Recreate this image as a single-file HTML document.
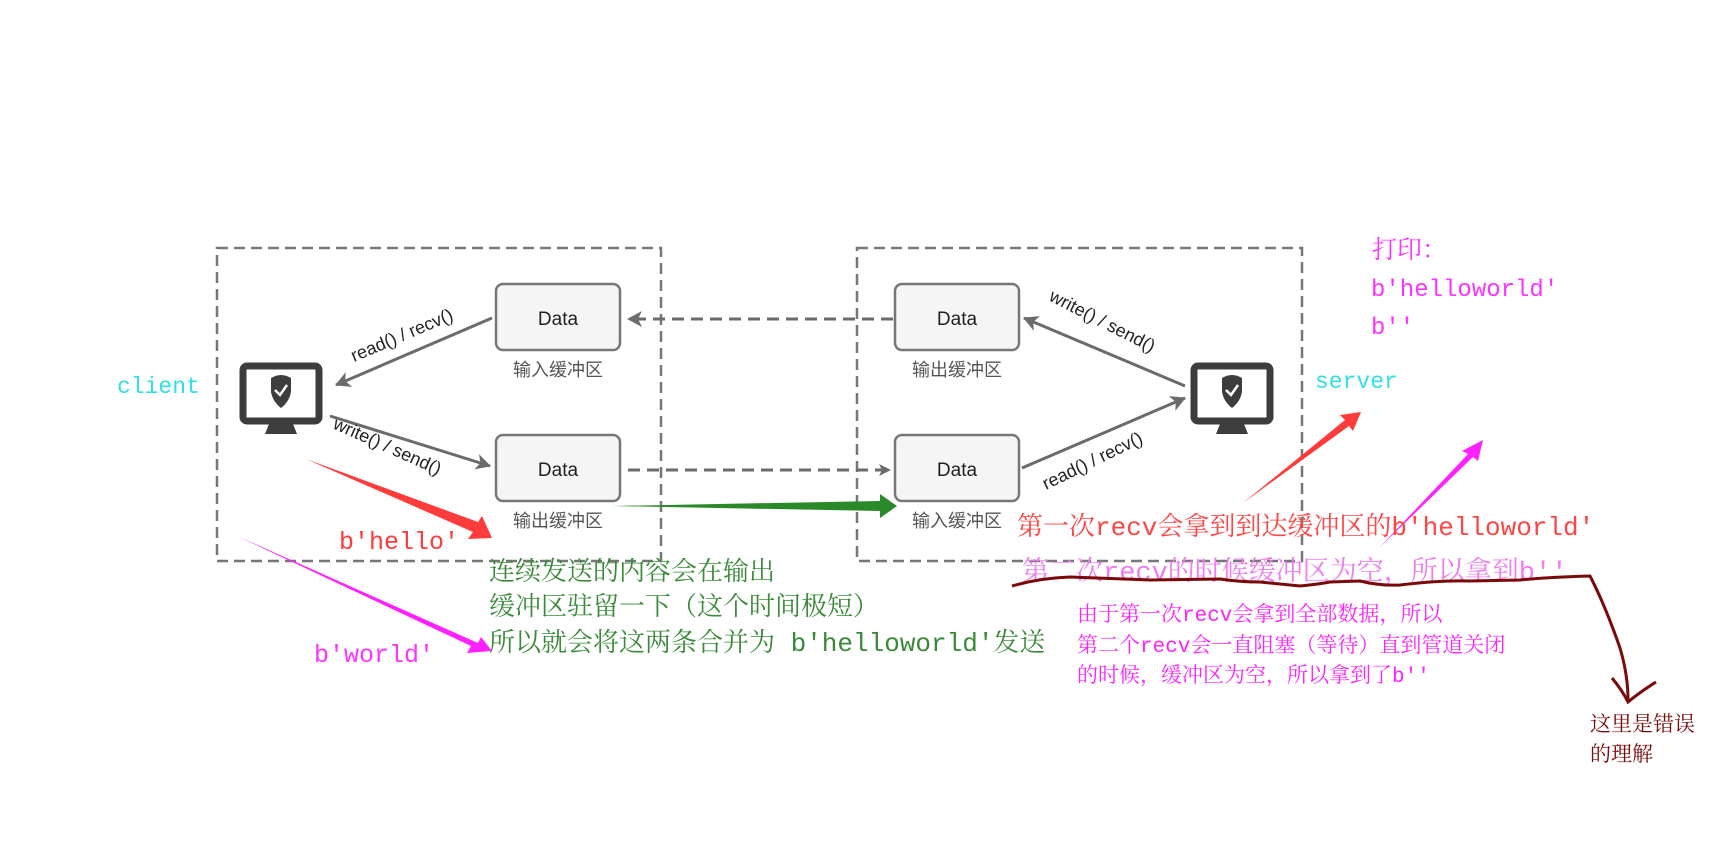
<!DOCTYPE html>
<html><head><meta charset="utf-8"><style>
html,body{margin:0;padding:0;background:#fff;}
svg{display:block;}
.m{font-family:"Liberation Mono","Noto Serif CJK SC","Noto Sans CJK SC",monospace;}
.s{font-family:"Liberation Sans","Noto Sans CJK SC",sans-serif;}
</style></head><body>
<svg width="1714" height="844" viewBox="0 0 1714 844" xmlns="http://www.w3.org/2000/svg">
<defs>
<marker id="ga" markerWidth="12" markerHeight="12" refX="10" refY="6" orient="auto" markerUnits="userSpaceOnUse"><path d="M0,0 L12,6 L0,12 L3,6 Z" fill="#6b6b6b"/></marker>
<marker id="ga2" markerWidth="16" markerHeight="16" refX="14" refY="8" orient="auto" markerUnits="userSpaceOnUse"><path d="M0,0 L15,8 L0,16 L4,8 Z" fill="#6b6b6b"/></marker>
</defs>
<rect x="217" y="248" width="444" height="313" fill="none" stroke="#777" stroke-width="2.5" stroke-dasharray="11,6"/>
<rect x="857" y="248" width="445" height="313" fill="none" stroke="#777" stroke-width="2.5" stroke-dasharray="11,6"/>
<g class="s" font-size="19" fill="#222" text-anchor="middle">
<rect x="496" y="284" width="124" height="66" rx="7" fill="#f5f5f5" stroke="#777" stroke-width="2.5"/>
<text x="558" y="325">Data</text>
<rect x="496" y="435" width="124" height="66" rx="7" fill="#f5f5f5" stroke="#777" stroke-width="2.5"/>
<text x="558" y="476">Data</text>
<rect x="895" y="284" width="124" height="66" rx="7" fill="#f5f5f5" stroke="#777" stroke-width="2.5"/>
<text x="957" y="325">Data</text>
<rect x="895" y="435" width="124" height="66" rx="7" fill="#f5f5f5" stroke="#777" stroke-width="2.5"/>
<text x="957" y="476">Data</text>
</g>
<g class="s" font-size="18" fill="#555" text-anchor="middle">
<text x="558" y="376">输入缓冲区</text>
<text x="558" y="527">输出缓冲区</text>
<text x="957" y="376">输出缓冲区</text>
<text x="957" y="527">输入缓冲区</text>
</g>
<g id="mon">
<rect x="243" y="366" width="76" height="55" rx="4" fill="#fff" stroke="#3d3d3d" stroke-width="7"/>
<path d="M265,434 L269,424 L293,424 L297,434 Z" fill="#3d3d3d"/>
<path d="M271,378 Q281,372 291,378 L291,392 Q289,402 281,408 Q273,402 271,392 Z" fill="#3d3d3d"/>
<path d="M275,390 L280,395 L287,385" stroke="#fff" stroke-width="2.5" fill="none"/>
</g>
<use href="#mon" transform="translate(951,0)"/>
<g stroke="#6b6b6b" stroke-width="3" fill="none">
<line x1="492" y1="318" x2="336" y2="385" marker-end="url(#ga2)"/>
<line x1="330" y1="416" x2="490" y2="466" marker-end="url(#ga2)"/>
<line x1="1185" y1="386" x2="1024" y2="318" marker-end="url(#ga2)"/>
<line x1="1022" y1="468" x2="1185" y2="398" marker-end="url(#ga2)"/>
<line x1="893" y1="319" x2="628" y2="319" stroke-dasharray="12,7" marker-end="url(#ga2)"/>
<line x1="628" y1="470" x2="889" y2="470" stroke-dasharray="12,7" marker-end="url(#ga)"/>
</g>
<g class="s" font-size="18" fill="#222">
<text transform="translate(354,362) rotate(-23)">read() / recv()</text>
<text transform="translate(332,428) rotate(24)">write() / send()</text>
<text transform="translate(1048,300) rotate(27)">write() / send()</text>
<text transform="translate(1046,490) rotate(-26)">read() / recv()</text>
</g>
<path d="M306,459 L478,522 L482,516 L492,538 L468,539 L473,532 Z" fill="#ff3b3b"/>
<path d="M237,536 L478,643 L481,637 L492,651 L467,653 L471,646 Z" fill="#ff22ff"/>
<path d="M612,506 L880,501 L880,494 L897,506 L880,518 L880,511 Z" fill="#2a8a2a"/>
<path d="M1243,503 L1345,420 L1340,415 L1361,412 L1353,431 L1349,426 Z" fill="#ff3b3b"/>
<path d="M1379,548 L1468,454 L1462,451 L1483,440 L1478,461 L1473,457 Z" fill="#ff22ff"/>
<g class="m">
<text x="117" y="393" font-size="23" fill="#33e0e0">client</text>
<text x="1315" y="388" font-size="23" fill="#33e0e0">server</text>
<text x="1372" y="258" font-size="25" fill="#ff33ff">打印：</text>
<text x="1371" y="296" font-size="24" fill="#ff33ff">b'helloworld'</text>
<text x="1371" y="334" font-size="24" fill="#ff33ff">b''</text>
<text x="339" y="549" font-size="25" fill="#ff3b3b">b'hello'</text>
<text x="314" y="662" font-size="25" fill="#ff33ff">b'world'</text>
<g font-size="26" fill="#3a8a3a">
<text x="489" y="580">连续发送的内容会在输出</text>
<text x="489" y="615">缓冲区驻留一下（这个时间极短）</text>
<text x="489" y="651">所以就会将这两条合并为 b'helloworld'发送</text>
</g>
<text x="1017" y="535" font-size="26" fill="#ff4444">第一次recv会拿到到达缓冲区的b'helloworld'</text>
<text x="1022" y="580" font-size="27" fill="#f07cf0">第二次recv的时候缓冲区为空，所以拿到b''</text>
<g font-size="21" fill="#ff22ff">
<text x="1077" y="621">由于第一次recv会拿到全部数据，所以</text>
<text x="1077" y="652">第二个recv会一直阻塞（等待）直到管道关闭</text>
<text x="1077" y="682">的时候，缓冲区为空，所以拿到了b''</text>
</g>
<g font-size="21" fill="#7a0a0a">
<text x="1590" y="731">这里是错误</text>
<text x="1590" y="761">的理解</text>
</g>
</g>
<path d="M1012,586 Q1040,578 1070,577 L1150,580 L1220,579 Q1240,582 1260,582 L1300,586 Q1320,584 1330,582 L1360,581 Q1380,586 1400,585 Q1440,580 1470,581 L1520,580 Q1550,577 1590,576 Q1605,605 1620,648 Q1628,675 1628,700" fill="none" stroke="#7a0a0a" stroke-width="3"/>
<path d="M1612,678 Q1622,690 1628,702 Q1640,692 1656,682" fill="none" stroke="#7a0a0a" stroke-width="3"/>
</svg>
</body></html>
